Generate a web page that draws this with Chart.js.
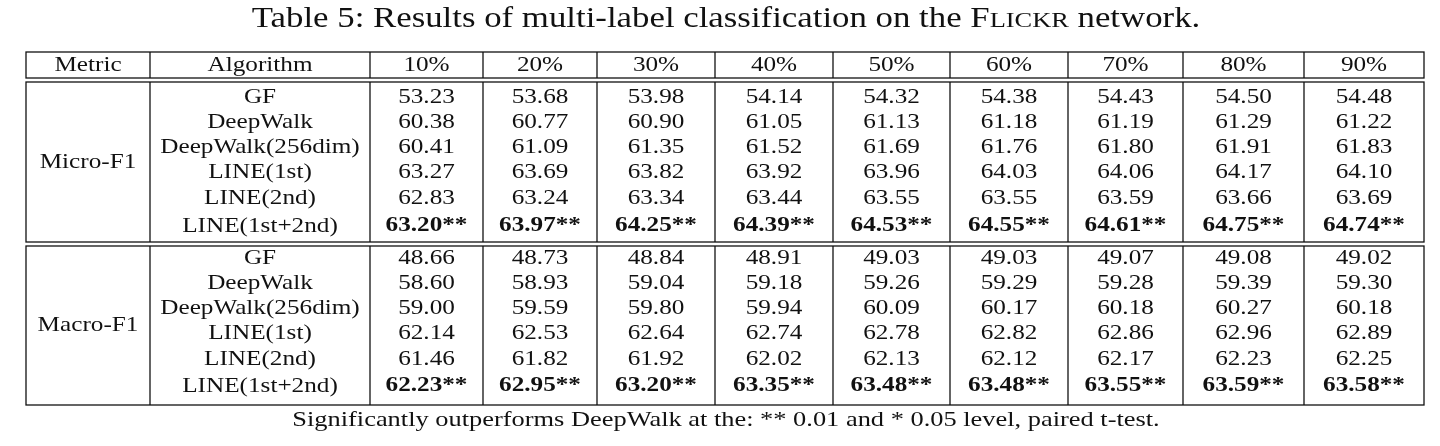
<!DOCTYPE html>
<html><head><meta charset="utf-8">
<script src="https://cdn.jsdelivr.net/npm/chart.js@4/dist/chart.umd.min.js"></script>
<style>html,body{margin:0;padding:0;background:#fff}#w{width:1440px;height:446px}</style>
</head><body><div id="w"><canvas id="c"></canvas></div>
<script>
const title = "Table 5: Results of multi-label classification on the F";
const titleSC = "LICKR";
const titleEnd = " network.";
const footer = "Significantly outperforms DeepWalk at the: ** 0.01 and * 0.05 level, paired t-test.";
const headers = ["Metric","Algorithm","10%","20%","30%","40%","50%","60%","70%","80%","90%"];
const metrics = ["Micro-F1","Macro-F1"];
const algorithms = ["GF","DeepWalk","DeepWalk(256dim)","LINE(1st)","LINE(2nd)","LINE(1st+2nd)"];
const microF1 = [
 ["53.23","53.68","53.98","54.14","54.32","54.38","54.43","54.50","54.48"],
 ["60.38","60.77","60.90","61.05","61.13","61.18","61.19","61.29","61.22"],
 ["60.41","61.09","61.35","61.52","61.69","61.76","61.80","61.91","61.83"],
 ["63.27","63.69","63.82","63.92","63.96","64.03","64.06","64.17","64.10"],
 ["62.83","63.24","63.34","63.44","63.55","63.55","63.59","63.66","63.69"],
 ["63.20**","63.97**","64.25**","64.39**","64.53**","64.55**","64.61**","64.75**","64.74**"]];
const macroF1 = [
 ["48.66","48.73","48.84","48.91","49.03","49.03","49.07","49.08","49.02"],
 ["58.60","58.93","59.04","59.18","59.26","59.29","59.28","59.39","59.30"],
 ["59.00","59.59","59.80","59.94","60.09","60.17","60.18","60.27","60.18"],
 ["62.14","62.53","62.64","62.74","62.78","62.82","62.86","62.96","62.89"],
 ["61.46","61.82","61.92","62.02","62.13","62.12","62.17","62.23","62.25"],
 ["62.23**","62.95**","63.20**","63.35**","63.48**","63.48**","63.55**","63.59**","63.58**"]];

const colEdges=[26,150,370,483,597,715,833,950,1068,1183,1304,1424];
const blocks=[{top:82,bot:242,rows:[97,122,147,172,198,226]},{top:246,bot:405,rows:[258,283,308,333,359,386]}];
const FONT='"Liberation Serif", "DejaVu Serif", serif';
const SX=1.2;

const tablePlugin={id:'table',afterDraw(ch){
 const c=ch.ctx,X=ch.scales.x,Y=ch.scales.y;
 const px=v=>X.getPixelForValue(v),py=v=>Y.getPixelForValue(v);
 const txt=(s,x,y,font,align)=>{c.save();c.font=font;c.textAlign=align||'center';c.translate(x,y);c.scale(SX,1);c.fillText(s,0,0);c.restore();};
 const mw=(s,font)=>{c.font=font;return c.measureText(s).width*SX;};
 c.save();c.fillStyle='#111';c.strokeStyle='#111';c.lineWidth=1.3;c.textBaseline='middle';
 const F1='29px '+FONT,F2='22px '+FONT;
 const w1=mw(title,F1),w2=mw(titleSC,F2),w3=mw(titleEnd,F1);
 let tx=px(726)-(w1+w2+w3)/2;
 txt(title,tx,py(19),F1,'left');txt(titleSC,tx+w1,py(21),F2,'left');txt(titleEnd,tx+w1+w2,py(19),F1,'left');
 const L=px(colEdges[0]),R=px(colEdges[colEdges.length-1]);
 const rect=(t,b,cols)=>{c.strokeRect(L,py(t),R-L,py(b)-py(t));cols.forEach(e=>{c.beginPath();c.moveTo(px(e),py(t));c.lineTo(px(e),py(b));c.stroke();});};
 rect(52,78,colEdges.slice(1,-1));
 const FN='21px '+FONT,FB='bold 21px '+FONT;
 headers.forEach((h,i)=>txt(h,(px(colEdges[i])+px(colEdges[i+1]))/2,py(65),FN));
 blocks.forEach((b,bi)=>{
  rect(b.top,b.bot,colEdges.slice(1,-1));
  const data=bi===0?microF1:macroF1;
  txt(metrics[bi],(px(colEdges[0])+px(colEdges[1]))/2,(py(b.top)+py(b.bot))/2,FN);
  algorithms.forEach((a,ri)=>{
   const y=py(b.rows[ri]);
   txt(a,(px(colEdges[1])+px(colEdges[2]))/2,y,FN);
   data[ri].forEach((v,ci)=>txt(v,(px(colEdges[ci+2])+px(colEdges[ci+3]))/2,y,ri===5?FB:FN));
  });
 });
 txt(footer,px(726),py(420),'22px '+FONT);
 c.restore();
}};
new Chart(document.getElementById('c'),{type:'scatter',
 data:{datasets:[{data:[],pointRadius:0}]},
 options:{responsive:true,maintainAspectRatio:false,animation:false,
  layout:{padding:0},
  plugins:{legend:{display:false},tooltip:{enabled:false}},
  scales:{x:{type:'linear',min:0,max:1440,display:false},y:{type:'linear',min:0,max:446,reverse:true,display:false}}},
 plugins:[tablePlugin]});
</script></body></html>
